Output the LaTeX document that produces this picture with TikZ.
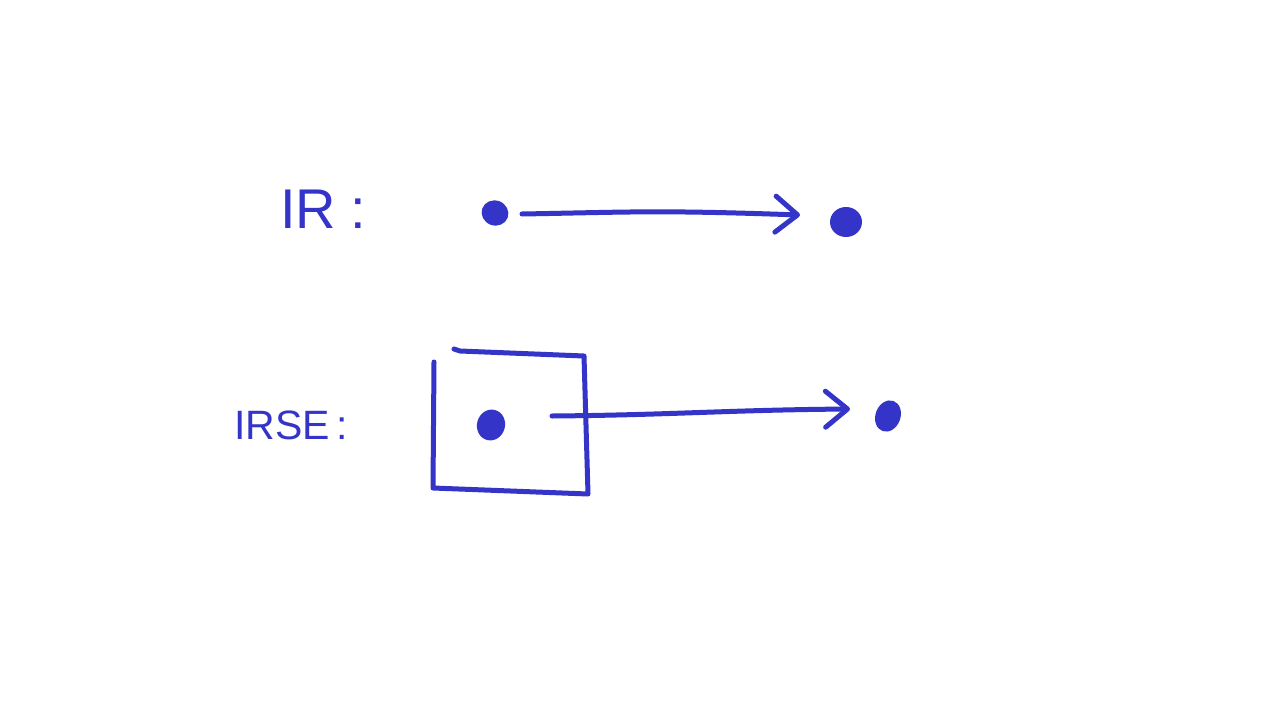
\documentclass[tikz,border=0pt]{standalone}
\usepackage{fontspec}
\setmainfont{Liberation Sans}
\usetikzlibrary{arrows.meta,shapes.geometric,calc}
\definecolor{ink}{RGB}{52,52,200}
\tikzset{
  pen/.style={draw=ink, line width=5pt, line cap=round, line join=round},
  arr/.style={pen, -{Straight Barb[length=22pt,width=36pt,line cap=round,line join=round]}},
  blob/.style={ellipse, fill=ink, draw=none, inner sep=0pt},
  lab/.style={text=ink, inner sep=0pt, anchor=base west},
}
\begin{document}
\begin{tikzpicture}[x=1pt,y=-1pt]
\useasboundingbox[fill=white] (0,0) rectangle (1280,720);
% labels
\node[lab, font=\fontsize{56}{60}\selectfont] (lir) at (280,228) {IR\hspace{14pt}:};
\node[lab, font=\fontsize{41}{46}\selectfont] (lirse) at (234,439) {IRSE\hspace{7pt}:};
% dots
\node[blob, minimum width=27pt, minimum height=25pt, rotate=-20] (d1) at (495,213) {};
\node[blob, minimum width=32pt, minimum height=30pt] (d2) at (846,222) {};
\node[blob, minimum width=28pt, minimum height=31pt, rotate=-15] (d3) at (491,425) {};
\node[blob, minimum width=25pt, minimum height=32pt, rotate=-20] (d4) at (888,416) {};
% box
\draw[pen] (434,362) -- (433,488) -- (588,494) -- (584,356) -- (460,351) -- (454,349);
% arrows
\draw[arr] ($(d1)+(27,1)$) .. controls ($(d1)+(140,-1)$) and ($(d2)+(-190,-12)$) .. ($(d2)+(-46,-7)$);
\draw[arr] ($(d3)+(61,-9)$) .. controls ($(d3)+(180,-10)$) and ($(d4)+(-160,-6)$) .. ($(d4)+(-38,-7)$);
\end{tikzpicture}
\end{document}
